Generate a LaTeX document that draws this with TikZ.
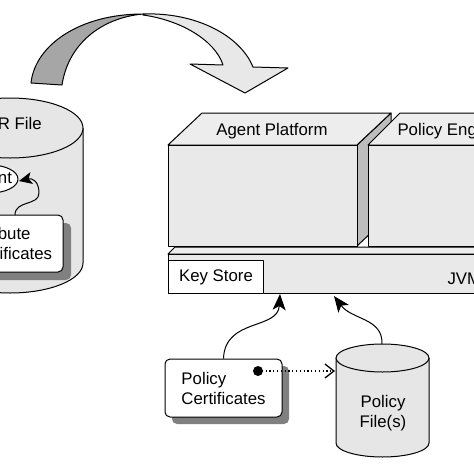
\documentclass[tikz,border=0pt]{standalone}
\usepackage{fontspec}
\setmainfont{Liberation Sans}
\usetikzlibrary{arrows.meta,shapes.geometric}
\definecolor{frontgray}{HTML}{E9E9E9}
\definecolor{topgray}{HTML}{EDEDED}
\definecolor{sidegray}{HTML}{BDBDBD}
\definecolor{cylgray}{HTML}{E6E6E6}
\definecolor{shadowgray}{HTML}{808080}
\definecolor{banddark}{HTML}{A6A6A6}
\definecolor{bandlight}{HTML}{E8E8E8}
\begin{document}
\begin{tikzpicture}[x=1pt,y=-1pt,line width=1pt,line join=round,
  lbl/.style={font=\fontsize{16.8}{20}\selectfont,inner sep=0pt,align=center},
  lbll/.style={font=\fontsize{16.8}{20}\selectfont,inner sep=0pt,align=left},
  certbox/.style={draw,fill=white,rounded corners=5pt,inner sep=0pt},
  shadowbox/.style={fill=shadowgray,rounded corners=5pt},
  tipfill/.style={-{Stealth[length=16pt,width=13pt,inset=4pt]}},
  tipsmall/.style={-{Stealth[length=13pt,width=12pt,inset=3pt]}}]
\useasboundingbox (0,0) rectangle (474,474);

% ---- big curved arrow ----
\draw[fill=banddark] (31,83) .. controls (35,45) and (80,14) .. (143,14)
  .. controls (100,18) and (68,45) .. (62,85) -- cycle;
\draw[fill=bandlight] (143,14) .. controls (195,12) and (240,35) .. (253,67)
  -- (288,68) -- (245,93) -- (190,64) -- (223,65)
  .. controls (215,40) and (180,20) .. (143,15) -- cycle;

% ---- JAR file cylinder ----
\draw[fill=cylgray] (-63,128) -- (-63,263)
  arc[start angle=180,end angle=0,x radius=73,y radius=30] -- (83,128) -- cycle;
\draw[fill=cylgray] (10,128) ellipse [x radius=73,y radius=30];
\node[lbl] (jar) at (10,123) {JAR File};
\node[draw,fill=white,ellipse,minimum width=56pt,minimum height=28pt,inner sep=0pt] (agent) at (-10,179) {};
\node[lbl] at (agent) {Agent};
\fill[shadowbox] (-35,223) rectangle (71,280);
\node[certbox,minimum width=106pt,minimum height=57pt] (attr) at (10,243.5) {};
\node[lbll] at (attr) {Attribute\\Certificates};
\coordinate (attrtop) at (15,215);
\coordinate (agentend) at (19,181);
\draw[tipsmall] (attrtop) .. controls (15,200) and (39,206) .. (39,193)
  .. controls (39,181) and (32,178) .. (agentend);

% ---- Agent platform box ----
\draw[fill=sidegray] (357,145) -- (391,113) -- (391,214) -- (357,246) -- cycle;
\draw[fill=topgray] (168,145) -- (202,113) -- (391,113) -- (357,145) -- cycle;
\draw[fill=frontgray] (168,145) rectangle (357,246);
\node[lbl] (ap) at (272,131) {Agent Platform};

% ---- Policy engine box ----
\draw[fill=topgray] (368,145) -- (400,113) -- (490,113) -- (490,145) -- cycle;
\draw[fill=frontgray] (368,145) rectangle (490,246);
\node[lbl,anchor=west] (pe) at (397,131) {Policy Engine};

% ---- JVM slab ----
\draw[fill=topgray] (168,254) -- (175,247) -- (490,247) -- (490,254) -- cycle;
\draw[fill=frontgray] (168,254) rectangle (490,293);
\node[lbl,anchor=west] (jvm) at (447,279) {JVM};
\node[draw,fill=white,minimum width=95pt,minimum height=33pt,inner sep=0pt,anchor=north west] (kstore) at (168,260) {};
\node[lbl] at (kstore) {Key Store};

% ---- Policy certificates ----
\fill[shadowbox] (172,366) rectangle (289,424);
\node[certbox,minimum width=117pt,minimum height=58pt] (pcert) at (223.5,388) {};
\node[lbll] at (pcert) {Policy\\Certificates};

% ---- Policy file cylinder ----
\draw[fill=cylgray] (336,358) -- (336,443)
  arc[start angle=180,end angle=0,x radius=46.5,y radius=14] -- (429,358) -- cycle;
\draw[fill=cylgray] (382.5,358) ellipse [x radius=46.5,y radius=14];
\node[lbl] (pfile) at (383,413) {Policy\\File(s)};
\coordinate (pfiletop) at (382,344);
\coordinate (pfileleft) at (335,371);

% ---- connectors ----
\coordinate (jvmA) at (280,294);
\coordinate (jvmB) at (334,296);
\draw[tipfill] (pcert.north) .. controls (225,318) and (278,330) .. (jvmA);
\draw[tipfill] (pfiletop) .. controls (383,318) and (352,320) .. (jvmB);
\coordinate (dot) at (258,371);
\fill (dot) circle (5);
\draw[line width=2pt,dash pattern=on 1.2pt off 2.6pt,-{Straight Barb[length=9pt,width=14pt,line width=1.3pt]}] (dot) -- (pfileleft);
\end{tikzpicture}
\end{document}
